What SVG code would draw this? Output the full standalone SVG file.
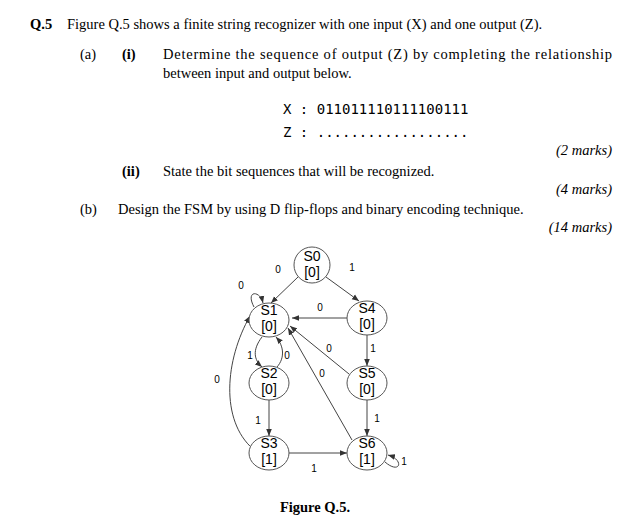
<svg xmlns="http://www.w3.org/2000/svg" width="630" height="521" viewBox="0 0 630 521">
<style>
.t{font-family:"Liberation Serif",serif;font-size:14.5px;fill:#000}
.b{font-weight:bold}
.i{font-style:italic}
.m{font-family:"DejaVu Sans Mono",monospace;font-size:14px}
.s{fill:#fff;stroke:#555;stroke-width:1}
.n{font-family:"Liberation Sans",sans-serif;font-size:14px;text-anchor:middle}
.l{font-family:"Liberation Sans",sans-serif;font-size:10px;text-anchor:middle}
.e{fill:none;stroke:#444;stroke-width:1;marker-end:url(#a)}
</style>
<defs><marker id="a" viewBox="0 0 10 10" refX="10" refY="5" markerWidth="7" markerHeight="7" orient="auto"><path d="M0,1 L10,5 L0,9 z" fill="#333"/></marker></defs>
<rect width="630" height="521" fill="#fff"/>
<text class="t b" x="30" y="29">Q.5</text>
<text class="t" x="67" y="29">Figure Q.5 shows a finite string recognizer with one input (X) and one output (Z).</text>
<text class="t" x="80" y="59">(a)</text>
<text class="t b" x="122" y="59">(i)</text>
<text class="t" x="163" y="59" textLength="449">Determine the sequence of output (Z) by completing the relationship</text>
<text class="t" x="163" y="78">between input and output below.</text>
<text class="m" x="283" y="114">X : 011011110111100111</text>
<text class="m" x="283" y="137">Z : ..................</text>
<text class="t i" x="612" y="155" text-anchor="end">(2 marks)</text>
<text class="t b" x="122" y="176">(ii)</text>
<text class="t" x="163" y="176">State the bit sequences that will be recognized.</text>
<text class="t i" x="612" y="194" text-anchor="end">(4 marks)</text>
<text class="t" x="80" y="214">(b)</text>
<text class="t" x="118" y="214">Design the FSM by using D flip-flops and binary encoding technique.</text>
<text class="t i" x="612" y="232" text-anchor="end">(14 marks)</text>
<text class="t b" x="315" y="512" text-anchor="middle">Figure Q.5.</text>
<g id="edges">
<path class="e" d="M298,277 L271,303"/>
<path class="e" d="M326,277 L359,301"/>
<path class="e" d="M347,318 L292,318"/>
<path class="e" d="M367,335 L367,366"/>
<path class="e" d="M349,374 L290,326"/>
<path class="e" d="M367,400 L367,436"/>
<path class="e" d="M352,440 L288,328"/>
<path class="e" d="M269,400 L269,436"/>
<path class="e" d="M289,453 L347,453"/>
<path class="e" d="M262,337 C252,350 254,360 262,367"/>
<path class="e" d="M277,367 C285,358 284,346 276,337"/>
<path class="e" d="M253,449 C220,420 225,360 250,316"/>
<path class="e" d="M254,307 C245,290 260,290 263,303"/>
<path class="e" d="M385,462 C400,475 405,460 388,455"/>
</g>
<g id="S0"><ellipse class="s" cx="312" cy="265" rx="18" ry="18"/><text class="n" x="312" y="261">S0</text><text class="n" x="312" y="277">[0]</text></g>
<g id="S1"><ellipse class="s" cx="269" cy="320" rx="20" ry="17"/><text class="n" x="269" y="315">S1</text><text class="n" x="269" y="331">[0]</text></g>
<g id="S4"><ellipse class="s" cx="367" cy="318" rx="20" ry="17"/><text class="n" x="367" y="313">S4</text><text class="n" x="367" y="329">[0]</text></g>
<g id="S2"><ellipse class="s" cx="269" cy="383" rx="20" ry="17"/><text class="n" x="269" y="378">S2</text><text class="n" x="269" y="394">[0]</text></g>
<g id="S5"><ellipse class="s" cx="367" cy="383" rx="20" ry="17"/><text class="n" x="367" y="378">S5</text><text class="n" x="367" y="394">[0]</text></g>
<g id="S3"><ellipse class="s" cx="269" cy="453" rx="20" ry="17"/><text class="n" x="269" y="448">S3</text><text class="n" x="269" y="464">[1]</text></g>
<g id="S6"><ellipse class="s" cx="367" cy="453" rx="20" ry="17"/><text class="n" x="367" y="448">S6</text><text class="n" x="367" y="464">[1]</text></g>
<g id="labels">
<text class="l" x="278" y="273">0</text>
<text class="l" x="352" y="271">1</text>
<text class="l" x="241" y="289">0</text>
<text class="l" x="320" y="311">0</text>
<text class="l" x="373" y="352">1</text>
<text class="l" x="329" y="352">0</text>
<text class="l" x="250" y="359">1</text>
<text class="l" x="287" y="359">0</text>
<text class="l" x="217" y="383">0</text>
<text class="l" x="322" y="377">0</text>
<text class="l" x="258" y="424">1</text>
<text class="l" x="377" y="422">1</text>
<text class="l" x="314" y="472">1</text>
<text class="l" x="404" y="465">1</text>
</g>
</svg>
